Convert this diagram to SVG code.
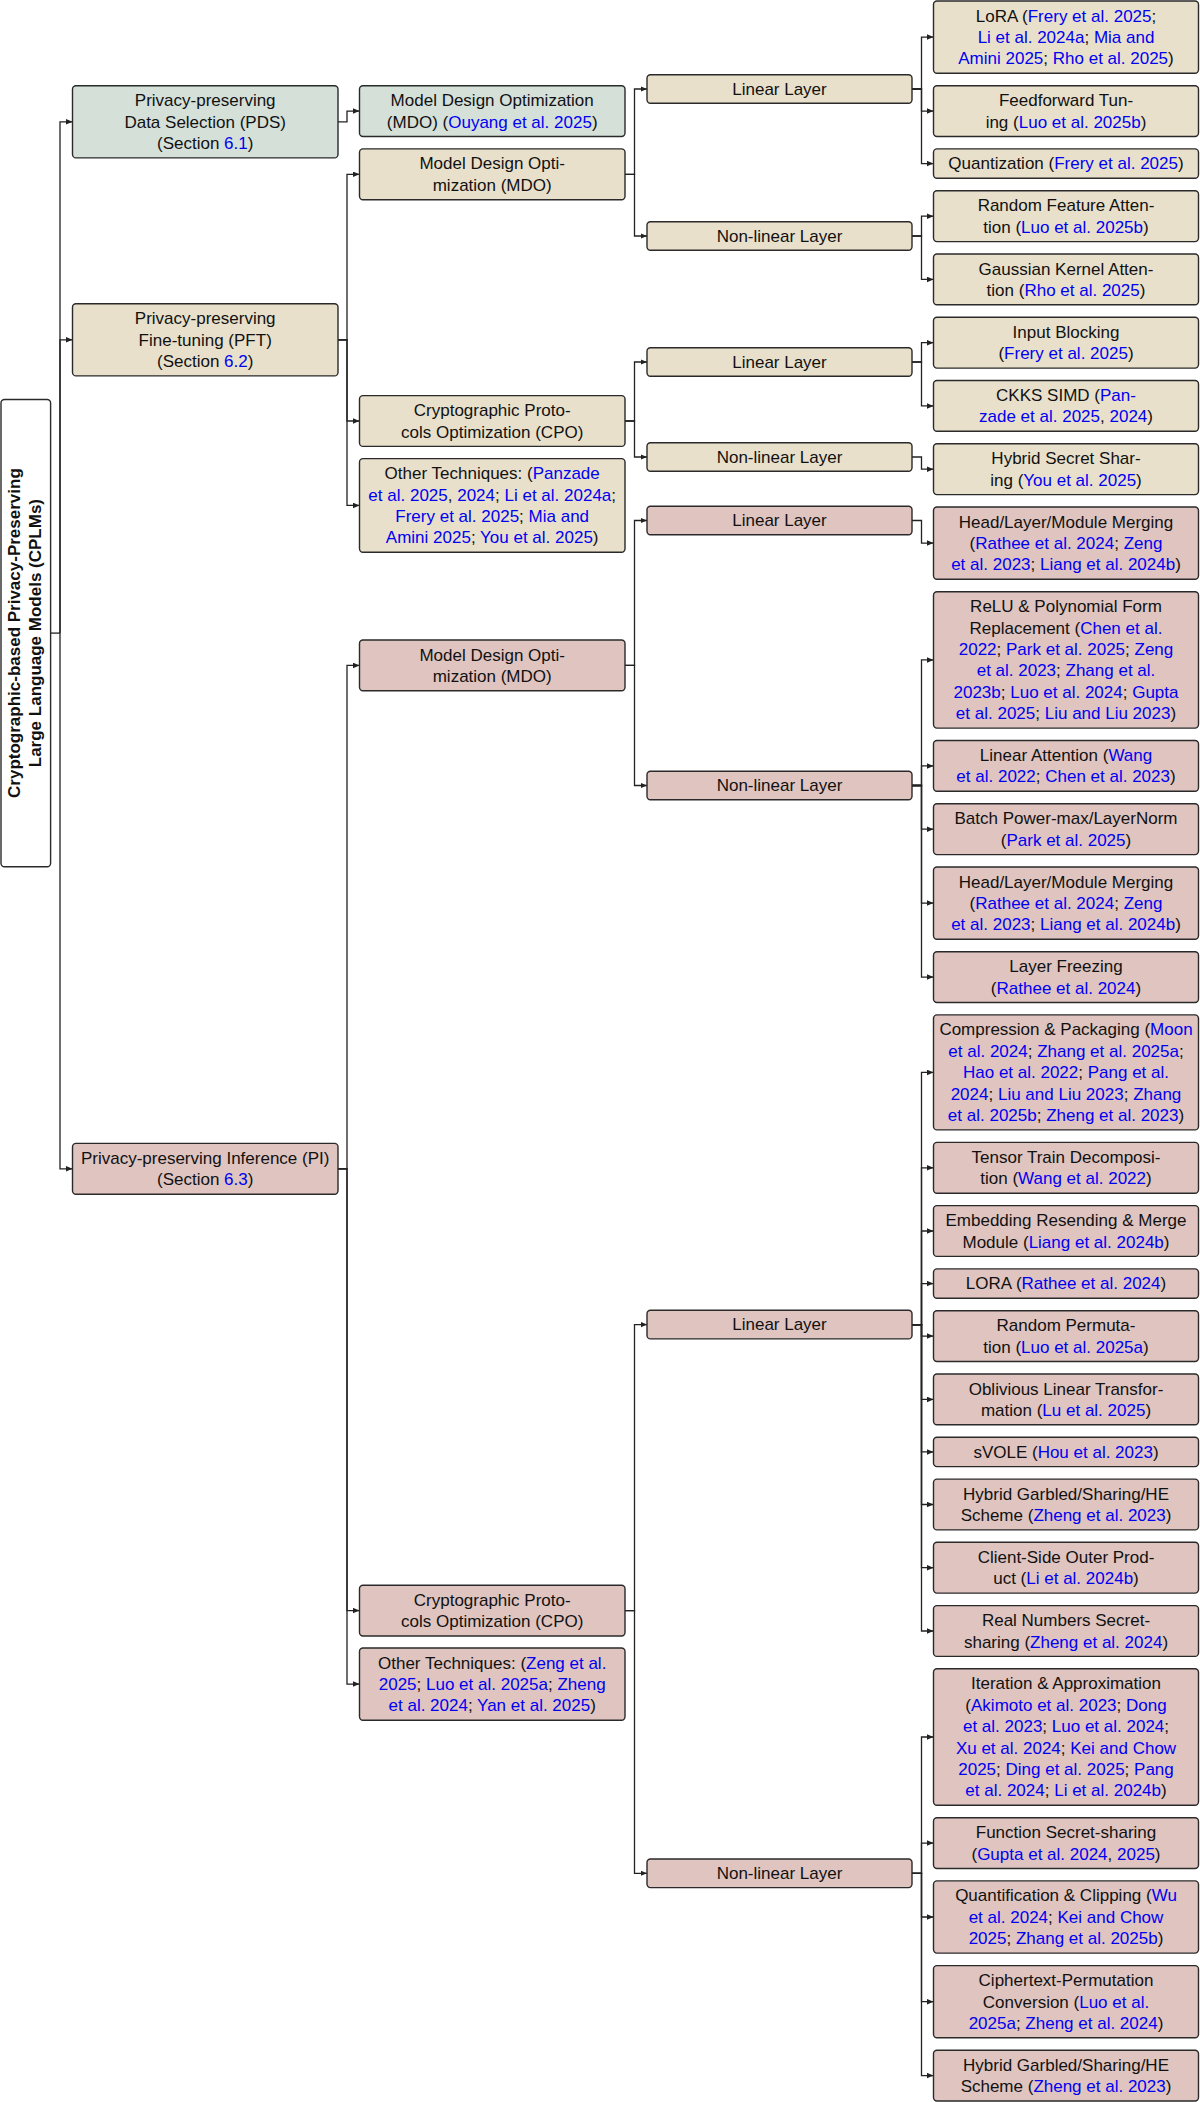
<svg xmlns="http://www.w3.org/2000/svg" width="1200" height="2102" viewBox="0 0 1200 2102">
<defs>
<marker id="ah" markerUnits="userSpaceOnUse" markerWidth="7" markerHeight="6" refX="6.5" refY="2.75" orient="auto">
<path d="M0,0 L6.5,2.75 L0,5.5 z" fill="#222"/>
</marker>
</defs>
<style>
.b{stroke:#2a2a2a;stroke-width:1.4}
.pds{fill:#D5E0D9}
.pft{fill:#E8E0CB}
.pi{fill:#DFC4C0}
.root{fill:#ffffff}
text{font-family:"Liberation Sans",Arial,sans-serif;font-size:17px;fill:#111;text-anchor:middle}
.c{fill:#0000F0}
.rt{font-weight:bold;font-size:17px}
.w path{fill:none;stroke:#222;stroke-width:1.3;marker-end:url(#ah)}
.w path.s{marker-end:none}
</style>
<rect width="1200" height="2102" fill="#ffffff"/>

<g id="connectors" class="w">
<path class="s" d="M50.6,633.1 H60"/>
<path d="M60,633.1 V121.8 H72.5"/>
<path d="M60,633.1 V339.8 H72.5"/>
<path d="M60,633.1 V1168.8 H72.5"/>
<path d="M338,121.8 H347 V111.1 H359.5"/>
<path d="M338,339.8 H347 V174.3 H359.5"/>
<path d="M338,339.8 H347 V421 H359.5"/>
<path d="M338,339.8 H347 V505.4 H359.5"/>
<path d="M338,1168.8 H347 V665.4 H359.5"/>
<path d="M338,1168.8 H347 V1610.6 H359.5"/>
<path d="M338,1168.8 H347 V1684.1 H359.5"/>
<path d="M625,174.3 H634.5 V89 H647"/>
<path d="M625,174.3 H634.5 V236 H647"/>
<path d="M625,421 H634.5 V362 H647"/>
<path d="M625,421 H634.5 V457 H647"/>
<path d="M625,665.4 H634.5 V520.5 H647"/>
<path d="M625,665.4 H634.5 V785.5 H647"/>
<path d="M625,1610.6 H634.5 V1324.6 H647"/>
<path d="M625,1610.6 H634.5 V1873.3 H647"/>
<path d="M912,89 H921.5 V37.1 H933.5"/>
<path d="M912,89 H921.5 V111.1 H933.5"/>
<path d="M912,89 H921.5 V163.6 H933.5"/>
<path d="M912,236 H921.5 V216.2 H933.5"/>
<path d="M912,236 H921.5 V279.4 H933.5"/>
<path d="M912,362 H921.5 V342.7 H933.5"/>
<path d="M912,362 H921.5 V405.9 H933.5"/>
<path d="M912,457 H921.5 V469.2 H933.5"/>
<path d="M912,520.5 H921.5 V543.1 H933.5"/>
<path d="M912,785.5 H921.5 V659.9 H933.5"/>
<path d="M912,785.5 H921.5 V765.9 H933.5"/>
<path d="M912,785.5 H921.5 V829.2 H933.5"/>
<path d="M912,785.5 H921.5 V903.1 H933.5"/>
<path d="M912,785.5 H921.5 V977.1 H933.5"/>
<path d="M912,1324.6 H921.5 V1072.4 H933.5"/>
<path d="M912,1324.6 H921.5 V1167.8 H933.5"/>
<path d="M912,1324.6 H921.5 V1231 H933.5"/>
<path d="M912,1324.6 H921.5 V1283.6 H933.5"/>
<path d="M912,1324.6 H921.5 V1336.1 H933.5"/>
<path d="M912,1324.6 H921.5 V1399.4 H933.5"/>
<path d="M912,1324.6 H921.5 V1451.9 H933.5"/>
<path d="M912,1324.6 H921.5 V1504.5 H933.5"/>
<path d="M912,1324.6 H921.5 V1567.7 H933.5"/>
<path d="M912,1324.6 H921.5 V1631 H933.5"/>
<path d="M912,1873.3 H921.5 V1737 H933.5"/>
<path d="M912,1873.3 H921.5 V1843.1 H933.5"/>
<path d="M912,1873.3 H921.5 V1917 H933.5"/>
<path d="M912,1873.3 H921.5 V2001.7 H933.5"/>
<path d="M912,1873.3 H921.5 V2075.6 H933.5"/>
</g>

<g id="root">
<rect class="b root" x="1" y="399.5" width="49.6" height="467.3" rx="3.5"/>
<text class="rt" transform="translate(20.3,633.1) rotate(-90)">Cryptographic-based Privacy-Preserving</text>
<text class="rt" transform="translate(41.3,633.1) rotate(-90)">Large Language Models (CPLMs)</text>
</g>

<g id="pds">
<rect class="b pds" x="72.5" y="85.7" width="265.5" height="72.2" rx="3.5"/>
<text x="205.2" y="106.2">Privacy-preserving</text>
<text x="205.2" y="127.6">Data Selection (PDS)</text>
<text x="205.2" y="149">(Section <tspan class="c">6.1</tspan>)</text>
</g>
<g id="pft">
<rect class="b pft" x="72.5" y="303.7" width="265.5" height="72.2" rx="3.5"/>
<text x="205.2" y="324.2">Privacy-preserving</text>
<text x="205.2" y="345.6">Fine-tuning (PFT)</text>
<text x="205.2" y="367">(Section <tspan class="c">6.2</tspan>)</text>
</g>
<g id="pi">
<rect class="b pi" x="72.5" y="1143.4" width="265.5" height="50.8" rx="3.5"/>
<text x="205.2" y="1163.9">Privacy-preserving Inference (PI)</text>
<text x="205.2" y="1185.3">(Section <tspan class="c">6.3</tspan>)</text>
</g>

<g id="pds-mdo">
<rect class="b pds" x="359.5" y="85.7" width="265.5" height="50.8" rx="3.5"/>
<text x="492.2" y="106.2">Model Design Optimization</text>
<text x="492.2" y="127.6">(MDO) (<tspan class="c">Ouyang et al. 2025</tspan>)</text>
</g>
<g id="pft-mdo">
<rect class="b pft" x="359.5" y="148.9" width="265.5" height="50.8" rx="3.5"/>
<text x="492.2" y="169.4">Model Design Opti-</text>
<text x="492.2" y="190.8">mization (MDO)</text>
</g>
<g id="pft-cpo">
<rect class="b pft" x="359.5" y="395.6" width="265.5" height="50.8" rx="3.5"/>
<text x="492.2" y="416.1">Cryptographic Proto-</text>
<text x="492.2" y="437.5">cols Optimization (CPO)</text>
</g>
<g id="pft-other">
<rect class="b pft" x="359.5" y="458.6" width="265.5" height="93.6" rx="3.5"/>
<text x="492.2" y="479.1">Other Techniques: (<tspan class="c">Panzade</tspan></text>
<text x="492.2" y="500.5"><tspan class="c">et al. 2025</tspan>, <tspan class="c">2024</tspan>; <tspan class="c">Li et al. 2024a</tspan>;</text>
<text x="492.2" y="521.9"><tspan class="c">Frery et al. 2025</tspan>; <tspan class="c">Mia and</tspan></text>
<text x="492.2" y="543.3"><tspan class="c">Amini 2025</tspan>; <tspan class="c">You et al. 2025</tspan>)</text>
</g>
<g id="pi-mdo">
<rect class="b pi" x="359.5" y="640" width="265.5" height="50.8" rx="3.5"/>
<text x="492.2" y="660.5">Model Design Opti-</text>
<text x="492.2" y="681.9">mization (MDO)</text>
</g>
<g id="pi-cpo">
<rect class="b pi" x="359.5" y="1585.2" width="265.5" height="50.8" rx="3.5"/>
<text x="492.2" y="1605.7">Cryptographic Proto-</text>
<text x="492.2" y="1627.1">cols Optimization (CPO)</text>
</g>
<g id="pi-other">
<rect class="b pi" x="359.5" y="1648" width="265.5" height="72.2" rx="3.5"/>
<text x="492.2" y="1668.5">Other Techniques: (<tspan class="c">Zeng et al.</tspan></text>
<text x="492.2" y="1689.9"><tspan class="c">2025</tspan>; <tspan class="c">Luo et al. 2025a</tspan>; <tspan class="c">Zheng</tspan></text>
<text x="492.2" y="1711.3"><tspan class="c">et al. 2024</tspan>; <tspan class="c">Yan et al. 2025</tspan>)</text>
</g>

<g id="pft-mdo-lin"><rect class="b pft" x="647" y="74.7" width="265" height="28.6" rx="3.5"/><text x="779.5" y="94.8">Linear Layer</text></g>
<g id="pft-mdo-nl"><rect class="b pft" x="647" y="221.7" width="265" height="28.6" rx="3.5"/><text x="779.5" y="241.8">Non-linear Layer</text></g>
<g id="pft-cpo-lin"><rect class="b pft" x="647" y="347.7" width="265" height="28.6" rx="3.5"/><text x="779.5" y="367.8">Linear Layer</text></g>
<g id="pft-cpo-nl"><rect class="b pft" x="647" y="442.7" width="265" height="28.6" rx="3.5"/><text x="779.5" y="462.8">Non-linear Layer</text></g>
<g id="pi-mdo-lin"><rect class="b pi" x="647" y="506.2" width="265" height="28.6" rx="3.5"/><text x="779.5" y="526.3">Linear Layer</text></g>
<g id="pi-mdo-nl"><rect class="b pi" x="647" y="771.2" width="265" height="28.6" rx="3.5"/><text x="779.5" y="791.3">Non-linear Layer</text></g>
<g id="pi-cpo-lin"><rect class="b pi" x="647" y="1310.3" width="265" height="28.6" rx="3.5"/><text x="779.5" y="1330.4">Linear Layer</text></g>
<g id="pi-cpo-nl"><rect class="b pi" x="647" y="1859" width="265" height="28.6" rx="3.5"/><text x="779.5" y="1879.1">Non-linear Layer</text></g>

<g id="leaf-lora">
<rect class="b pft" x="933.5" y="1" width="265" height="72.2" rx="3.5"/>
<text x="1066" y="21.5">LoRA (<tspan class="c">Frery et al. 2025</tspan>;</text>
<text x="1066" y="42.9"><tspan class="c">Li et al. 2024a</tspan>; <tspan class="c">Mia and</tspan></text>
<text x="1066" y="64.3"><tspan class="c">Amini 2025</tspan>; <tspan class="c">Rho et al. 2025</tspan>)</text>
</g>
<g id="leaf-ff">
<rect class="b pft" x="933.5" y="85.7" width="265" height="50.8" rx="3.5"/>
<text x="1066" y="106.2">Feedforward Tun-</text>
<text x="1066" y="127.6">ing (<tspan class="c">Luo et al. 2025b</tspan>)</text>
</g>
<g id="leaf-quant">
<rect class="b pft" x="933.5" y="148.9" width="265" height="29.4" rx="3.5"/>
<text x="1066" y="169.4">Quantization (<tspan class="c">Frery et al. 2025</tspan>)</text>
</g>
<g id="leaf-rfa">
<rect class="b pft" x="933.5" y="190.8" width="265" height="50.8" rx="3.5"/>
<text x="1066" y="211.3">Random Feature Atten-</text>
<text x="1066" y="232.7">tion (<tspan class="c">Luo et al. 2025b</tspan>)</text>
</g>
<g id="leaf-gka">
<rect class="b pft" x="933.5" y="254" width="265" height="50.8" rx="3.5"/>
<text x="1066" y="274.5">Gaussian Kernel Atten-</text>
<text x="1066" y="295.9">tion (<tspan class="c">Rho et al. 2025</tspan>)</text>
</g>
<g id="leaf-ib">
<rect class="b pft" x="933.5" y="317.3" width="265" height="50.8" rx="3.5"/>
<text x="1066" y="337.8">Input Blocking</text>
<text x="1066" y="359.2">(<tspan class="c">Frery et al. 2025</tspan>)</text>
</g>
<g id="leaf-ckks">
<rect class="b pft" x="933.5" y="380.5" width="265" height="50.8" rx="3.5"/>
<text x="1066" y="401">CKKS SIMD (<tspan class="c">Pan-</tspan></text>
<text x="1066" y="422.4"><tspan class="c">zade et al. 2025</tspan>, <tspan class="c">2024</tspan>)</text>
</g>
<g id="leaf-hss">
<rect class="b pft" x="933.5" y="443.8" width="265" height="50.8" rx="3.5"/>
<text x="1066" y="464.3">Hybrid Secret Shar-</text>
<text x="1066" y="485.7">ing (<tspan class="c">You et al. 2025</tspan>)</text>
</g>
<g id="leaf-hlm1">
<rect class="b pi" x="933.5" y="507" width="265" height="72.2" rx="3.5"/>
<text x="1066" y="527.5">Head/Layer/Module Merging</text>
<text x="1066" y="548.9">(<tspan class="c">Rathee et al. 2024</tspan>; <tspan class="c">Zeng</tspan></text>
<text x="1066" y="570.3"><tspan class="c">et al. 2023</tspan>; <tspan class="c">Liang et al. 2024b</tspan>)</text>
</g>
<g id="leaf-relu">
<rect class="b pi" x="933.5" y="591.7" width="265" height="136.4" rx="3.5"/>
<text x="1066" y="612.2">ReLU &amp; Polynomial Form</text>
<text x="1066" y="633.6">Replacement (<tspan class="c">Chen et al.</tspan></text>
<text x="1066" y="655"><tspan class="c">2022</tspan>; <tspan class="c">Park et al. 2025</tspan>; <tspan class="c">Zeng</tspan></text>
<text x="1066" y="676.4"><tspan class="c">et al. 2023</tspan>; <tspan class="c">Zhang et al.</tspan></text>
<text x="1066" y="697.8"><tspan class="c">2023b</tspan>; <tspan class="c">Luo et al. 2024</tspan>; <tspan class="c">Gupta</tspan></text>
<text x="1066" y="719.2"><tspan class="c">et al. 2025</tspan>; <tspan class="c">Liu and Liu 2023</tspan>)</text>
</g>
<g id="leaf-la">
<rect class="b pi" x="933.5" y="740.5" width="265" height="50.8" rx="3.5"/>
<text x="1066" y="761">Linear Attention (<tspan class="c">Wang</tspan></text>
<text x="1066" y="782.4"><tspan class="c">et al. 2022</tspan>; <tspan class="c">Chen et al. 2023</tspan>)</text>
</g>
<g id="leaf-bpm">
<rect class="b pi" x="933.5" y="803.8" width="265" height="50.8" rx="3.5"/>
<text x="1066" y="824.3">Batch Power-max/LayerNorm</text>
<text x="1066" y="845.7">(<tspan class="c">Park et al. 2025</tspan>)</text>
</g>
<g id="leaf-hlm2">
<rect class="b pi" x="933.5" y="867" width="265" height="72.2" rx="3.5"/>
<text x="1066" y="887.5">Head/Layer/Module Merging</text>
<text x="1066" y="908.9">(<tspan class="c">Rathee et al. 2024</tspan>; <tspan class="c">Zeng</tspan></text>
<text x="1066" y="930.3"><tspan class="c">et al. 2023</tspan>; <tspan class="c">Liang et al. 2024b</tspan>)</text>
</g>
<g id="leaf-lf">
<rect class="b pi" x="933.5" y="951.7" width="265" height="50.8" rx="3.5"/>
<text x="1066" y="972.2">Layer Freezing</text>
<text x="1066" y="993.6">(<tspan class="c">Rathee et al. 2024</tspan>)</text>
</g>
<g id="leaf-cp">
<rect class="b pi" x="933.5" y="1014.9" width="265" height="115" rx="3.5"/>
<text x="1066" y="1035.4">Compression &amp; Packaging (<tspan class="c">Moon</tspan></text>
<text x="1066" y="1056.8"><tspan class="c">et al. 2024</tspan>; <tspan class="c">Zhang et al. 2025a</tspan>;</text>
<text x="1066" y="1078.2"><tspan class="c">Hao et al. 2022</tspan>; <tspan class="c">Pang et al.</tspan></text>
<text x="1066" y="1099.6"><tspan class="c">2024</tspan>; <tspan class="c">Liu and Liu 2023</tspan>; <tspan class="c">Zhang</tspan></text>
<text x="1066" y="1121"><tspan class="c">et al. 2025b</tspan>; <tspan class="c">Zheng et al. 2023</tspan>)</text>
</g>
<g id="leaf-ttd">
<rect class="b pi" x="933.5" y="1142.4" width="265" height="50.8" rx="3.5"/>
<text x="1066" y="1162.9">Tensor Train Decomposi-</text>
<text x="1066" y="1184.3">tion (<tspan class="c">Wang et al. 2022</tspan>)</text>
</g>
<g id="leaf-erm">
<rect class="b pi" x="933.5" y="1205.6" width="265" height="50.8" rx="3.5"/>
<text x="1066" y="1226.1">Embedding Resending &amp; Merge</text>
<text x="1066" y="1247.5">Module (<tspan class="c">Liang et al. 2024b</tspan>)</text>
</g>
<g id="leaf-lora2">
<rect class="b pi" x="933.5" y="1268.9" width="265" height="29.4" rx="3.5"/>
<text x="1066" y="1289.4">LORA (<tspan class="c">Rathee et al. 2024</tspan>)</text>
</g>
<g id="leaf-rp">
<rect class="b pi" x="933.5" y="1310.7" width="265" height="50.8" rx="3.5"/>
<text x="1066" y="1331.2">Random Permuta-</text>
<text x="1066" y="1352.6">tion (<tspan class="c">Luo et al. 2025a</tspan>)</text>
</g>
<g id="leaf-olt">
<rect class="b pi" x="933.5" y="1374" width="265" height="50.8" rx="3.5"/>
<text x="1066" y="1394.5">Oblivious Linear Transfor-</text>
<text x="1066" y="1415.9">mation (<tspan class="c">Lu et al. 2025</tspan>)</text>
</g>
<g id="leaf-svole">
<rect class="b pi" x="933.5" y="1437.2" width="265" height="29.4" rx="3.5"/>
<text x="1066" y="1457.7">sVOLE (<tspan class="c">Hou et al. 2023</tspan>)</text>
</g>
<g id="leaf-hg1">
<rect class="b pi" x="933.5" y="1479.1" width="265" height="50.8" rx="3.5"/>
<text x="1066" y="1499.6">Hybrid Garbled/Sharing/HE</text>
<text x="1066" y="1521">Scheme (<tspan class="c">Zheng et al. 2023</tspan>)</text>
</g>
<g id="leaf-csop">
<rect class="b pi" x="933.5" y="1542.3" width="265" height="50.8" rx="3.5"/>
<text x="1066" y="1562.8">Client-Side Outer Prod-</text>
<text x="1066" y="1584.2">uct (<tspan class="c">Li et al. 2024b</tspan>)</text>
</g>
<g id="leaf-rnss">
<rect class="b pi" x="933.5" y="1605.6" width="265" height="50.8" rx="3.5"/>
<text x="1066" y="1626.1">Real Numbers Secret-</text>
<text x="1066" y="1647.5">sharing (<tspan class="c">Zheng et al. 2024</tspan>)</text>
</g>
<g id="leaf-ia">
<rect class="b pi" x="933.5" y="1668.8" width="265" height="136.4" rx="3.5"/>
<text x="1066" y="1689.3">Iteration &amp; Approximation</text>
<text x="1066" y="1710.7">(<tspan class="c">Akimoto et al. 2023</tspan>; <tspan class="c">Dong</tspan></text>
<text x="1066" y="1732.1"><tspan class="c">et al. 2023</tspan>; <tspan class="c">Luo et al. 2024</tspan>;</text>
<text x="1066" y="1753.5"><tspan class="c">Xu et al. 2024</tspan>; <tspan class="c">Kei and Chow</tspan></text>
<text x="1066" y="1774.9"><tspan class="c">2025</tspan>; <tspan class="c">Ding et al. 2025</tspan>; <tspan class="c">Pang</tspan></text>
<text x="1066" y="1796.3"><tspan class="c">et al. 2024</tspan>; <tspan class="c">Li et al. 2024b</tspan>)</text>
</g>
<g id="leaf-fss">
<rect class="b pi" x="933.5" y="1817.7" width="265" height="50.8" rx="3.5"/>
<text x="1066" y="1838.2">Function Secret-sharing</text>
<text x="1066" y="1859.6">(<tspan class="c">Gupta et al. 2024</tspan>, <tspan class="c">2025</tspan>)</text>
</g>
<g id="leaf-qc">
<rect class="b pi" x="933.5" y="1880.9" width="265" height="72.2" rx="3.5"/>
<text x="1066" y="1901.4">Quantification &amp; Clipping (<tspan class="c">Wu</tspan></text>
<text x="1066" y="1922.8"><tspan class="c">et al. 2024</tspan>; <tspan class="c">Kei and Chow</tspan></text>
<text x="1066" y="1944.2"><tspan class="c">2025</tspan>; <tspan class="c">Zhang et al. 2025b</tspan>)</text>
</g>
<g id="leaf-cpc">
<rect class="b pi" x="933.5" y="1965.6" width="265" height="72.2" rx="3.5"/>
<text x="1066" y="1986.1">Ciphertext-Permutation</text>
<text x="1066" y="2007.5">Conversion (<tspan class="c">Luo et al.</tspan></text>
<text x="1066" y="2028.9"><tspan class="c">2025a</tspan>; <tspan class="c">Zheng et al. 2024</tspan>)</text>
</g>
<g id="leaf-hg2">
<rect class="b pi" x="933.5" y="2050.2" width="265" height="50.8" rx="3.5"/>
<text x="1066" y="2070.7">Hybrid Garbled/Sharing/HE</text>
<text x="1066" y="2092.1">Scheme (<tspan class="c">Zheng et al. 2023</tspan>)</text>
</g>
</svg>
